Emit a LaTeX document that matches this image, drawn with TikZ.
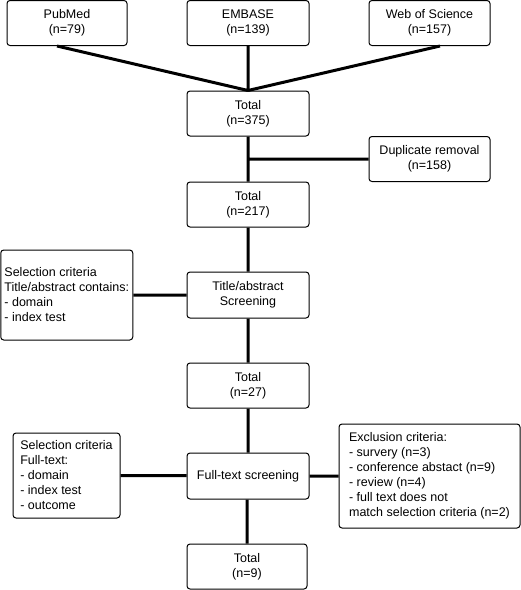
\documentclass[tikz,border=0pt]{standalone}
\usepackage{fontspec}
\setmainfont{Liberation Sans}
\usetikzlibrary{calc,positioning}

\begin{document}
\begin{tikzpicture}[x=1pt, y=-1pt,
    box/.style={draw, rounded corners=3pt, line width=1pt, inner sep=2pt,
        font=\fontsize{12.5}{15}\selectfont},
    stage/.style={box, align=center, minimum width=122pt, minimum height=45pt},
    crit/.style={box, align=left},
    link/.style={line width=3pt}]
    \useasboundingbox (0,0) rectangle (521,590);

    % databases
    \node[stage, minimum width=120pt] (pubmed) at (67, 23) {PubMed\\(n=79)};
    \node[stage] (embase) at (248, 23) {EMBASE\\(n=139)};
    \node[stage, minimum width=121pt] (wos) at (429.5, 23) {Web of Science\\(n=157)};

    % main column
    \node[stage] (total1) at (248, 113.5) {Total\\(n=375)};
    \node[stage, minimum width=121pt] (dup) at (429.5, 159) {Duplicate removal\\(n=158)};
    \node[stage] (total2) at (248, 204.5) {Total\\(n=217)};
    \node[stage, minimum height=46pt] (tascreen) at (248, 295) {Title/abstract\\Screening};
    \node[stage] (total3) at (248, 385.5) {Total\\(n=27)};
    \node[stage, minimum height=46pt] (ftscreen) at (248, 476) {Full-text screening};
    \node[stage, minimum width=120pt] (total4) at (247, 566.5) {Total\\(n=9)};

    % criteria
    \node[crit, minimum width=132pt, minimum height=90pt] (sel1) at (66.75, 295)
        {Selection criteria\\Title/abstract contains:\\- domain\\- index test};
    \node[crit, minimum width=107pt, minimum height=85pt] (sel2) at (66.5, 475.5)
        {Selection criteria\\Full-text:\\- domain\\- index test\\- outcome};
    \node[crit, minimum width=181pt, minimum height=104pt] (excl) at (429.5, 476)
        {Exclusion criteria:\\- survery (n=3)\\- conference abstact (n=9)\\- review (n=4)\\- full text does not\\match selection criteria (n=2)};

    % connectors
    \draw[link]
    ($(pubmed.south)+(-10,0)$) -- (total1.north)
    (embase.south) -- (total1.north)
    ($(wos.south)+(10.5,0)$) -- (total1.north)
    (total1.south) -- (total2.north)
    (total1.south |- dup.west) -- (dup.west)
    (total2.south) -- (tascreen.north)
    (sel1.east) -- (sel1.east -| tascreen.west)
    (tascreen.south) -- (total3.north)
    (total3.south) -- (ftscreen.north)
    (sel2.east) -- (sel2.east -| ftscreen.west)
    (ftscreen.east) -- (excl.west)
    (total4.north |- ftscreen.south) -- (total4.north);
\end{tikzpicture}
\end{document}
